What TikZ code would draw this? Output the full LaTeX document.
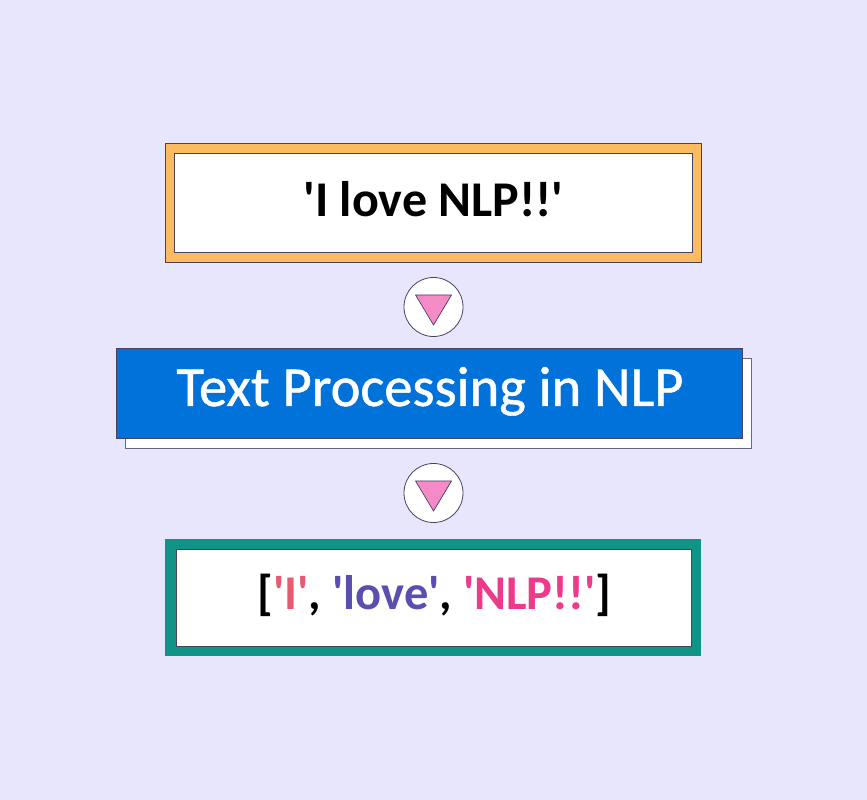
\documentclass[tikz,border=0pt]{standalone}
\usepackage{fontspec}
\setmainfont{Carlito}
\newcommand{\sq}{\textquotesingle}
\definecolor{bgc}{HTML}{E8E6FC}
\definecolor{orangec}{HTML}{FCBB5E}
\definecolor{bluec}{HTML}{0072D9}
\definecolor{tealc}{HTML}{109488}
\definecolor{edgec}{HTML}{4A4060}
\definecolor{pinktri}{HTML}{F48AC6}
\definecolor{tokI}{HTML}{E85A70}
\definecolor{tokLove}{HTML}{5A4EAE}
\definecolor{tokNLP}{HTML}{EE3A8A}
\tikzset{
  framebox/.style={draw=edgec, line width=0.8pt, inner sep=0pt},
  stepcircle/.style={circle, draw=edgec, line width=0.8pt, fill=white, minimum size=59pt, inner sep=0pt},
  tri/.style={fill=pinktri, draw=edgec, line width=0.7pt, line join=miter},
}
\begin{document}
\begin{tikzpicture}[x=1pt,y=1pt]
\fill[bgc] (0,0) rectangle (867,800);
\useasboundingbox (0,0) rectangle (867,800);
% top box
\node[framebox, fill=orangec, minimum width=536pt, minimum height=119pt] (topOuter) at (433,597.5) {};
\node[framebox, fill=white, minimum width=518pt, minimum height=99pt] (topInner) at (433,597.5) {};
\node[anchor=base, inner sep=0pt, font=\fontsize{50}{52}\selectfont\bfseries] (topText) at (433.5,583) {\sq I love NLP!!\sq};
% arrow circle 1
\node[stepcircle] (c1) at (433.5,493) {};
\fill[tri] ([shift={(-18,12)}]c1.center) -- ([shift={(18,12)}]c1.center) -- ([shift={(0,-18)}]c1.center) -- cycle;
% blue title
\node[draw=edgec!80, line width=0.8pt, fill=white, minimum width=626pt, minimum height=90pt, inner sep=0pt] (shadow) at (438,397) {};
\node[draw=edgec, line width=0.8pt, fill=bluec, minimum width=626pt, minimum height=90pt, inner sep=0pt] (title) at (429,407) {};
\node[anchor=base, inner sep=0pt, text=white, font=\fontsize{56.5}{58}\selectfont\addfontfeature{FakeBold=0.9}] (titleText) at (430,394) {Text Processing in NLP};
% arrow circle 2
\node[stepcircle] (c2) at (433.5,307) {};
\fill[tri] ([shift={(-18,12)}]c2.center) -- ([shift={(18,12)}]c2.center) -- ([shift={(0,-18)}]c2.center) -- cycle;
% bottom box
\node[fill=tealc, minimum width=536pt, minimum height=117pt, inner sep=0pt] (botOuter) at (433,202.5) {};
\node[framebox, fill=white, minimum width=515pt, minimum height=97pt] (botInner) at (433.5,202.5) {};
\node[anchor=base, inner sep=0pt, font=\fontsize{48.5}{50}\selectfont\bfseries] (botText) at (434.5,190) {[\textcolor{tokI}{\sq I\sq}, \textcolor{tokLove}{\sq love\sq}, \textcolor{tokNLP}{\sq NLP!!\sq}]};
\end{tikzpicture}
\end{document}
